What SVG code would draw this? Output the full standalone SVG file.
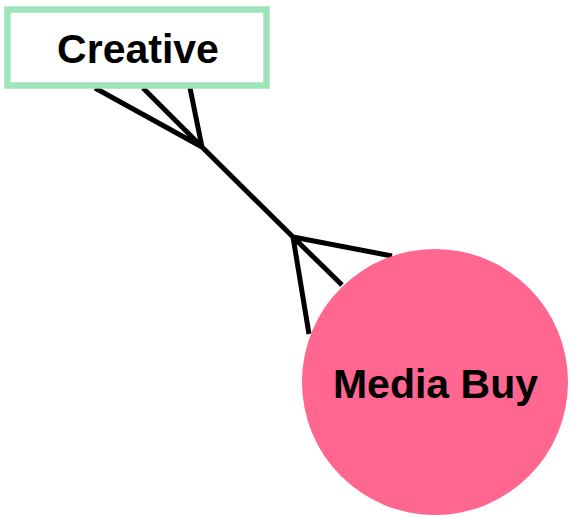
<svg xmlns="http://www.w3.org/2000/svg" width="571" height="518" viewBox="0 0 571 518">
<style>
.lbl{font-family:"Liberation Sans",Arial,sans-serif;font-weight:bold;font-size:41px;fill:#000;text-anchor:middle}
.edge{stroke:#000;stroke-width:5;fill:none;stroke-linecap:butt;stroke-linejoin:miter}
</style>
<rect width="571" height="518" fill="#fff"/>
<g id="connectors">
<path class="edge" d="M95,88 L202,147 M143,88 L202,147 M190,88 L202,147 M202,147 L293,237 M293,237 L392,256 M293,237 L342,285 M293,237 L309,334"/>
</g>
<g id="creative">
<rect x="7.5" y="9.5" width="259" height="76" fill="#fff" stroke="#9FE5BC" stroke-width="6.5"/>
<text class="lbl" x="138" y="63">Creative</text>
</g>
<g id="media-buy">
<circle cx="435" cy="382" r="133" fill="#FF6690"/>
<text class="lbl" x="435.5" y="398">Media Buy</text>
</g>
</svg>
